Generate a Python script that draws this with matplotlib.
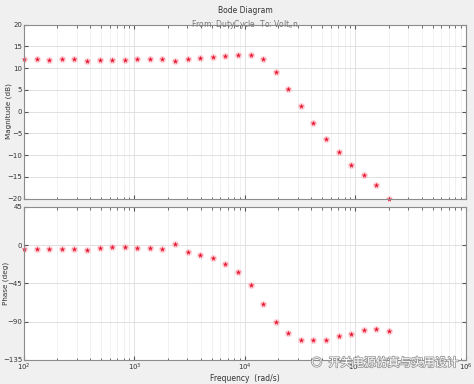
import matplotlib
matplotlib.use("Agg")
import matplotlib.pyplot as plt
import matplotlib.patheffects as pe
from matplotlib.ticker import LogLocator, NullFormatter

# === Data (rad/s, dB, deg) === #
freq = [100, 130, 169, 220, 286, 371, 483, 627, 816, 1060,
        1379, 1792, 2330, 3029, 3937, 5119, 6654, 8650, 11246, 14619,
        19005, 24706, 32118, 41754, 54280, 70564, 91733, 119253, 155029, 201538]
mag_db = [12.0, 12.0, 11.9, 12.0, 12.0, 11.7, 11.9, 11.9, 11.9, 12.0,
          12.0, 12.0, 11.7, 12.15, 12.2, 12.5, 12.7, 13.0, 13.1, 12.0,
          9.2, 5.2, 1.3, -2.6, -6.3, -9.3, -12.2, -14.7, -16.8, -20.2]
phase_deg = [-4.0, -4.4, -4.0, -4.4, -4.0, -5.2, -3.2, -2.4, -2.4, -2.8,
             -3.6, -4.4, 1.6, -7.9, -11.5, -15.5, -21.8, -31.3, -46.8, -68.7,
             -90.5, -103.6, -111.1, -111.1, -111.1, -107.1, -104.4, -99.6, -98.8, -101.2]

mag_ticks = [-20, -15, -10, -5, 0, 5, 10, 15, 20]
phase_ticks = [-135, -90, -45, 0, 45]

BG = '#f0f0f0'
EDGE = '#8c8c8c'

fig = plt.figure(figsize=(4.74, 3.84), dpi=100, facecolor=BG)
ax1 = fig.add_axes([0.0506, 0.483, 0.932, 0.453])
ax2 = fig.add_axes([0.0506, 0.0625, 0.932, 0.3985])


def style_axis(ax, yticks):
    ax.set_xscale('log')
    ax.set_xlim(1e2, 1e6)
    ax.set_ylim(yticks[0], yticks[-1])
    ax.set_yticks(yticks)
    ax.xaxis.set_minor_locator(LogLocator(base=10, subs=range(2, 10), numticks=20))
    ax.xaxis.set_minor_formatter(NullFormatter())
    ax.grid(True, which='major', color='#dcdcdc', linewidth=0.6)
    ax.grid(True, which='minor', axis='x', color='#ececec', linewidth=0.5)
    ax.set_axisbelow(True)
    for s in ax.spines.values():
        s.set_color(EDGE)
        s.set_linewidth(0.8)
    ax.tick_params(which='both', direction='in', top=True, right=True,
                   colors='#555555', labelcolor='#333333', labelsize=5, pad=1.2)
    ax.tick_params(which='major', length=3)
    ax.tick_params(which='minor', length=1.8)


def draw_points(ax, y):
    # soft pink halo + small red star, like the exported MATLAB markers
    ax.plot(freq, y, linestyle='none', marker='o', markersize=5,
            color='#ff9aa8', alpha=0.45, markeredgewidth=0)
    ax.plot(freq, y, linestyle='none', marker='*', markersize=3.4,
            color='#e8112d', markeredgewidth=0.2, clip_on=False)


style_axis(ax1, mag_ticks)
style_axis(ax2, phase_ticks)
ax1.tick_params(labelbottom=False)

draw_points(ax1, mag_db)
draw_points(ax2, phase_deg)

ax1.set_ylabel('Magnitude (dB)', fontsize=5.2, color='#333333')
ax2.set_ylabel('Phase (deg)', fontsize=5.2, color='#333333')
ax1.yaxis.set_label_coords(-0.028, 0.5)
ax2.yaxis.set_label_coords(-0.034, 0.5)
ax2.set_xlabel('Frequency  (rad/s)', fontsize=5.5, color='#333333', labelpad=1)

fig.text(0.517, 0.984, 'Bode Diagram', ha='center', va='top', fontsize=5.5, color='#333333')
fig.text(0.517, 0.953, r'From: DutyCycle  To: Volt$_{\rm e}$n', ha='center', va='top',
         fontsize=5.5, color='#777777')

# watermark in the bottom right corner
fig.text(0.966, 0.055, '开关电源仿真与实用设计', ha='right', va='center', fontsize=8.5,
         color='white', family=['Noto Sans CJK SC', 'DejaVu Sans'],
         path_effects=[pe.withStroke(linewidth=1.2, foreground='#9a9a9a')])
fig.text(0.668, 0.058, '\u25cb', ha='center', va='center', fontsize=9,
         color='white', path_effects=[pe.withStroke(linewidth=1.2, foreground='#9a9a9a')])

fig.savefig('out.png', dpi=100, facecolor=BG)
